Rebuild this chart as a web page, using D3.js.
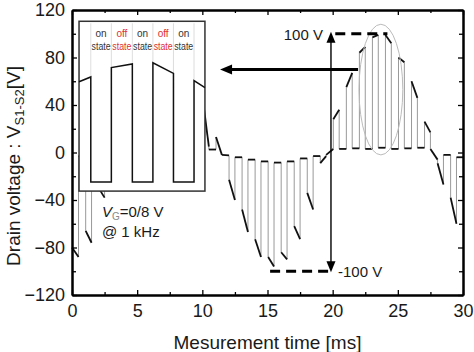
<!DOCTYPE html>
<html><head><meta charset="utf-8">
<script src="https://cdn.jsdelivr.net/npm/d3@7"></script>
<style>body{margin:0;background:#fff}svg{display:block}</style>
</head><body>
<svg id="c" width="474" height="352"></svg>
<script>
// ---- data ----
const pulseTimes = [0,1,2,3,4,5,6,7,8,9,10,11,12,13,14,15,16,17,18,19,20,21,22,23,24,25,26,27,28,29];
const offStartV = [-80,-66,-30,5,35,62,82,95,95,80,44,13,-23,-48,-73,-88,-84,-62,-34,-9,28,55,84,97,99,80,60,26,-9,-38];
const offEndV   = [-88,-76,-38,15,45,70,88,97,90,72,5,-2,-40,-67,-88,-96,-90,-73,-48,-3,36,67,89,99,92,76,46,17,-27,-60];
const onStartV  = [-3,-3,0,3,3,3,3,3,3,3,2.5,-2,-4,-6,-7.5,-8.5,-7.5,-5,-3,-2,3,3.5,3,4,3,3.5,4,3,-2,-4];
const onEndV    = [-3,-3,0,3,3,3,3,3,3,3,2.5,-2.5,-4,-6,-7.5,-8.5,-7.5,-5,-3,3,3,3.5,3,4,3,3.5,4,-6,-2,-4];
const xTicks = [0,5,10,15,20,25,30];
const xMinor = [2.5,7.5,12.5,17.5,22.5,27.5];
const yTicks = [-120,-80,-40,0,40,80,120];
const yMinor = [-100,-60,-20,20,60,100];
// inset (zoomed square wave)
const insetEdges = [0,0.28,0.77,1.27,1.76,2.25,2.74,3.0];
const insetLevA = [85,0,97,0,101,0,86];
const insetLevB = [89,0,100,0,92,0,80];
const insetTop = ["","on","off","on","off","on",""];
const insetBot = ["","state","state","state","state","state",""];
const insetRed = [false,false,true,false,true,false,false];
// annotations
const peakV = 100, troughV = -100;

// ---- chart ----
const svg = d3.select('#c');
const FONT = "'Liberation Sans', Arial, sans-serif";
const x = d3.scaleLinear().domain([0,30]).range([72,463]);
const y = d3.scaleLinear().domain([-120,120]).range([295,10]);
const line = d3.line().x(d=>x(d[0])).y(d=>y(d[1]));

// waveform
const blacks = [], grays = [];
pulseTimes.forEach((k,i)=>{
  const tA = i===0 ? k : k+0.05, tB = k+0.5, tC = Math.min(k+1.05,30);
  if (i>0) grays.push([[tA,onEndV[i-1]],[tA,offStartV[i]]]);
  blacks.push([[tA,offStartV[i]],[tB,offEndV[i]]]);
  grays.push([[tB,offEndV[i]],[tB,onStartV[i]]]);
  blacks.push([[tB,onStartV[i]],[tC,onEndV[i]]]);
});
const wg = svg.append('g');
wg.selectAll('path.g').data(grays).join('path').attr('d',line)
  .attr('stroke','#999').attr('stroke-width',1).attr('fill','none');
wg.selectAll('path.b').data(blacks).join('path').attr('d',line)
  .attr('stroke','#111').attr('stroke-width',1.8).attr('fill','none');

// ellipse around the peak
svg.append('ellipse').attr('cx',x(23.7)).attr('cy',y(53))
  .attr('rx',x(23.7)-x(22.02)).attr('ry',y(-2)-y(53))
  .attr('fill','none').attr('stroke','#bbb').attr('stroke-width',1);

// dashed level lines
svg.append('path').attr('d',line([[20.2,peakV],[24.2,peakV]]))
  .attr('stroke','#000').attr('stroke-width',3).attr('stroke-dasharray','10,6').attr('fill','none');
svg.append('path').attr('d',line([[15.2,troughV],[19.8,troughV]]))
  .attr('stroke','#000').attr('stroke-width',3).attr('stroke-dasharray','10,6').attr('fill','none');

// vertical double arrow
const ax = x(19.87);
svg.append('line').attr('x1',ax).attr('x2',ax).attr('y1',y(peakV)+6).attr('y2',y(troughV)-6)
  .attr('stroke','#000').attr('stroke-width',1.4);
svg.append('path').attr('d',`M${ax},${y(peakV)-2}L${ax-4.5},${y(peakV)+9}L${ax+4.5},${y(peakV)+9}Z`).attr('fill','#000');
svg.append('path').attr('d',`M${ax},${y(troughV)+1}L${ax-4.5},${y(troughV)-10}L${ax+4.5},${y(troughV)-10}Z`).attr('fill','#000');
svg.append('text').attr('x',ax-8).attr('y',y(peakV)+6).attr('text-anchor','end')
  .attr('font-family',FONT).attr('font-size',15).attr('fill','#1a1a1a').text('100 V');
svg.append('text').attr('x',ax+7).attr('y',y(troughV)+6)
  .attr('font-family',FONT).attr('font-size',15).attr('fill','#1a1a1a').text('-100 V');

// horizontal arrow to inset
const hy = y(70);
svg.append('line').attr('x1',x(21.95)).attr('x2',x(11.36)+10).attr('y1',hy).attr('y2',hy)
  .attr('stroke','#000').attr('stroke-width',3);
svg.append('path').attr('d',`M${x(11.36)},${hy}L${x(11.36)+12},${hy-5}L${x(11.36)+12},${hy+5}Z`).attr('fill','#000');

// inset
const ix0 = x(0.54), ix1 = x(10.2), iy0 = y(110.5), iy1 = y(-32.5);
const ig = svg.append('g');
ig.append('rect').attr('x',ix0).attr('y',iy0).attr('width',ix1-ix0).attr('height',iy1-iy0)
  .attr('fill','#fff').attr('stroke','#333').attr('stroke-width',1.5);
const isx = d3.scaleLinear().domain([0,3]).range([ix0,ix1]);
const isy = d3.scaleLinear().domain([0,100]).range([182,64]);
// dividers
insetEdges.slice(1,-1).forEach((e,j)=>{
  const top = Math.max(insetLevB[j], insetLevA[j+1]);
  ig.append('line').attr('x1',isx(e)).attr('x2',isx(e)).attr('y1',iy0+2).attr('y2',isy(top))
    .attr('stroke','#d4d4d4').attr('stroke-width',0.8);
});
const ipts = [];
insetLevA.forEach((a,j)=>{ ipts.push([insetEdges[j],a]); ipts.push([insetEdges[j+1],insetLevB[j]]); });
ig.append('path').attr('d',d3.line().x(d=>isx(d[0])).y(d=>isy(d[1]))(ipts))
  .attr('fill','none').attr('stroke','#111').attr('stroke-width',1.5);
insetTop.forEach((t,j)=>{
  if(!t) return;
  const cx = isx((insetEdges[j]+insetEdges[j+1])/2);
  const col = insetRed[j] ? '#e03030' : '#333';
  ig.append('text').attr('x',cx).attr('y',37).attr('text-anchor','middle')
    .attr('font-family',FONT).attr('font-size',10).attr('fill',col).text(t);
  ig.append('text').attr('x',cx).attr('y',50).attr('text-anchor','middle')
    .attr('font-family',FONT).attr('font-size',10).attr('fill',col)
    .attr('textLength',19).attr('lengthAdjust','spacingAndGlyphs').text(insetBot[j]);
});

// VG label
const vg = svg.append('text').attr('x',x(2.3)).attr('y',y(-54.3))
  .attr('font-family',FONT).attr('font-size',15).attr('fill','#1a1a1a');
vg.append('tspan').attr('font-style','italic').text('V');
vg.append('tspan').attr('font-size',10).attr('dy',3).attr('fill','#888').text('G');
vg.append('tspan').attr('dy',-3).text('=0/8 V');
svg.append('text').attr('x',x(2.3)).attr('y',y(-71))
  .attr('font-family',FONT).attr('font-size',15).attr('fill','#1a1a1a').text('@ 1 kHz');

// axes
function styleAxis(g){ g.selectAll('path.domain').attr('stroke','#000').attr('stroke-width',2);
  g.selectAll('line').attr('stroke','#000').attr('stroke-width',1.3);
  g.selectAll('text').attr('font-family',FONT).attr('font-size',18).attr('fill','#1a1a1a'); }
svg.append('g').attr('transform','translate(0,295)')
  .call(d3.axisBottom(x).tickValues(xTicks).tickSize(-5).tickSizeOuter(0).tickPadding(9).tickFormat(d3.format('d'))).call(styleAxis);
svg.append('g').attr('transform','translate(0,295)')
  .call(d3.axisBottom(x).tickValues(xMinor).tickSize(-3).tickSizeOuter(0).tickFormat('')).call(styleAxis);
svg.append('g').attr('transform','translate(0,10)')
  .call(d3.axisTop(x).tickValues(xTicks).tickSize(-5).tickSizeOuter(0).tickFormat('')).call(styleAxis);
svg.append('g').attr('transform','translate(0,10)')
  .call(d3.axisTop(x).tickValues(xMinor).tickSize(-3).tickSizeOuter(0).tickFormat('')).call(styleAxis);
svg.append('g').attr('transform','translate(72,0)')
  .call(d3.axisLeft(y).tickValues(yTicks).tickSize(-5).tickSizeOuter(0).tickPadding(7).tickFormat(d3.format('d'))).call(styleAxis);
svg.append('g').attr('transform','translate(72,0)')
  .call(d3.axisLeft(y).tickValues(yMinor).tickSize(-4).tickSizeOuter(0).tickFormat('')).call(styleAxis);
svg.append('g').attr('transform','translate(463,0)')
  .call(d3.axisRight(y).tickValues(yTicks).tickSize(-5).tickSizeOuter(0).tickFormat('')).call(styleAxis);
svg.append('g').attr('transform','translate(463,0)')
  .call(d3.axisRight(y).tickValues(yMinor).tickSize(-4).tickSizeOuter(0).tickFormat('')).call(styleAxis);

// axis titles
svg.append('text').attr('x',(x(0)+x(30))/2).attr('y',349).attr('text-anchor','middle')
  .attr('font-family',FONT).attr('font-size',19).attr('fill','#1a1a1a').text('Mesurement time [ms]');
const yt = svg.append('text').attr('transform','translate(20,166) rotate(-90)').attr('text-anchor','middle')
  .attr('font-family',FONT).attr('font-size',19).attr('fill','#1a1a1a');
yt.append('tspan').text('Drain voltage : V');
yt.append('tspan').attr('font-size',13).attr('dy',4).text('S1-S2');
yt.append('tspan').attr('dy',-4).text('[V]');
</script>
</body></html>
